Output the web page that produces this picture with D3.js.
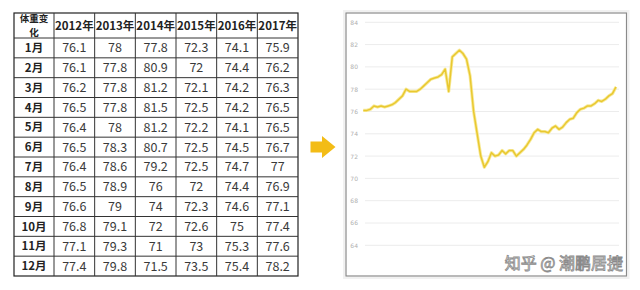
<!DOCTYPE html>
<html>
<head>
<meta charset="utf-8">
<script src="https://cdn.jsdelivr.net/npm/d3@7"></script>
<style>
  html, body { margin: 0; padding: 0; background: #fff; }
  svg { display: block; }
</style>
</head>
<body>
<div id="chart"></div>
<script>
// table / chart data
const years = ["2012年", "2013年", "2014年", "2015年", "2016年", "2017年"];
const months = ["1月", "2月", "3月", "4月", "5月", "6月", "7月", "8月", "9月", "10月", "11月", "12月"];
const w2012 = ["76.1", "76.1", "76.2", "76.5", "76.4", "76.5", "76.4", "76.5", "76.6", "76.8", "77.1", "77.4"];
const w2013 = ["78", "77.8", "77.8", "77.8", "78", "78.3", "78.6", "78.9", "79", "79.1", "79.3", "79.8"];
const w2014 = ["77.8", "80.9", "81.2", "81.5", "81.2", "80.7", "79.2", "76", "74", "72", "71", "71.5"];
const w2015 = ["72.3", "72", "72.1", "72.5", "72.2", "72.5", "72.5", "72", "72.3", "72.6", "73", "73.5"];
const w2016 = ["74.1", "74.4", "74.2", "74.2", "74.1", "74.5", "74.7", "74.4", "74.6", "75", "75.3", "75.4"];
const w2017 = ["75.9", "76.2", "76.3", "76.5", "76.5", "76.7", "77", "76.9", "77.1", "77.4", "77.6", "78.2"];
const yTicks = [64, 66, 68, 70, 72, 74, 76, 78, 80, 82, 84];
const headerLabel = ["体重变", "化"];
const watermark = "知乎 @ 潮鹏居捷";

const series = [w2012, w2013, w2014, w2015, w2016, w2017];

const W = 640, H = 290;
const svg = d3.select("#chart").append("svg")
    .attr("width", W)
    .attr("height", H);

/////////////////////////// table ///////////////////////////
const tbl = { left: 14, top: 13, headerBottom: 38, bottom: 276, firstColRight: 54, right: 298 };
const colX = d3.scaleBand()
    .domain(years)
    .range([tbl.firstColRight, tbl.right]);
const rowY = d3.scaleBand()
    .domain(months)
    .range([tbl.headerBottom, tbl.bottom]);

const table = svg.append("g").attr("class", "table")
    .style("font-family", "'Noto Sans CJK SC', 'Noto Sans', sans-serif");

table.append("rect")
    .attr("x", tbl.left).attr("y", tbl.top)
    .attr("width", tbl.right - tbl.left).attr("height", tbl.bottom - tbl.top)
    .attr("fill", "#fff").attr("stroke", "#222").attr("stroke-width", 1.2);

// horizontal rules
table.selectAll(".hrule")
    .data(months.slice(1).concat(["_head"]))
    .enter().append("line")
    .attr("x1", tbl.left).attr("x2", tbl.right)
    .attr("y1", d => d === "_head" ? tbl.headerBottom : rowY(d))
    .attr("y2", d => d === "_head" ? tbl.headerBottom : rowY(d))
    .attr("stroke", "#333").attr("stroke-width", 1);

// vertical rules
table.selectAll(".vrule")
    .data(years)
    .enter().append("line")
    .attr("x1", d => colX(d)).attr("x2", d => colX(d))
    .attr("y1", tbl.top).attr("y2", tbl.bottom)
    .attr("stroke", "#333").attr("stroke-width", 1);

// header (two lines in the first cell)
table.selectAll(".cornerHead")
    .data(headerLabel)
    .enter().append("text")
    .attr("x", (tbl.left + tbl.firstColRight) / 2)
    .attr("y", (d, i) => tbl.top + 8.8 + i * 14)
    .attr("text-anchor", "middle")
    .style("font-size", "9.5px").style("font-weight", "bold").attr("fill", "#222")
    .text(d => d);

table.selectAll(".yearHead")
    .data(years)
    .enter().append("text")
    .attr("x", d => colX(d) + colX.bandwidth() / 2)
    .attr("y", (tbl.top + tbl.headerBottom) / 2)
    .attr("dy", "0.36em")
    .attr("text-anchor", "middle")
    .style("font-size", "11.5px").style("font-weight", "bold").attr("fill", "#222")
    .text(d => d);

table.selectAll(".monthHead")
    .data(months)
    .enter().append("text")
    .attr("x", (tbl.left + tbl.firstColRight) / 2)
    .attr("y", d => rowY(d) + rowY.bandwidth() / 2)
    .attr("dy", "0.36em")
    .attr("text-anchor", "middle")
    .style("font-size", "11.5px").style("font-weight", "bold").attr("fill", "#222")
    .text(d => d);

series.forEach((vals, c) => {
    table.selectAll(".cell" + c)
        .data(vals)
        .enter().append("text")
        .attr("x", colX(years[c]) + colX.bandwidth() / 2)
        .attr("y", (d, i) => rowY(months[i]) + rowY.bandwidth() / 2)
        .attr("dy", "0.36em")
        .attr("text-anchor", "middle")
        .style("font-size", "12.5px").attr("fill", "#3a3a3a")
        .text(d => d);
});

/////////////////////////// arrow ///////////////////////////
svg.append("path")
    .attr("d", "M310.5,141.5 L322,141.5 L322,136 L335.5,147 L322,158 L322,152.5 L310.5,152.5 Z")
    .attr("fill", "#F3BC16");

/////////////////////////// line chart ///////////////////////////
const panel = { left: 346, top: 13, right: 626.5, bottom: 276 };

svg.append("rect")
    .attr("x", panel.left - 2).attr("y", panel.top - 2)
    .attr("width", panel.right - panel.left + 4).attr("height", panel.bottom - panel.top + 4)
    .attr("fill", "none").attr("stroke", "#f1f1f1").attr("stroke-width", 2);
svg.append("rect")
    .attr("x", panel.left).attr("y", panel.top)
    .attr("width", panel.right - panel.left).attr("height", panel.bottom - panel.top)
    .attr("fill", "#fff").attr("stroke", "#8a8a8a").attr("stroke-width", 1.2);

const flat = series.flat().map(Number);

const x = d3.scaleLinear()
    .domain([0, flat.length - 1])
    .range([363.3, 616]);
const y = d3.scaleLinear()
    .domain([64, 84])
    .range([245.3, 22.3]);

const grid = svg.append("g");
grid.selectAll("line")
    .data(yTicks)
    .enter().append("line")
    .attr("x1", 365).attr("x2", 619)
    .attr("y1", d => y(d)).attr("y2", d => y(d))
    .attr("stroke", "#ececec").attr("stroke-width", 1);

const yAxis = d3.axisLeft(y)
    .tickValues(yTicks)
    .tickSize(0)
    .tickPadding(0);
svg.append("g")
    .attr("transform", "translate(358,0)")
    .call(yAxis)
    .call(g => g.select(".domain").remove())
    .call(g => g.selectAll("text")
        .attr("fill", "#b0b0b0")
        .style("font-size", "6px")
        .style("font-family", "'DejaVu Sans', sans-serif"));

const line = d3.line()
    .x((d, i) => x(i))
    .y(d => y(d));

svg.append("path")
    .datum(flat)
    .attr("d", line)
    .attr("fill", "none")
    .attr("stroke", "#f7ea9a")
    .attr("stroke-width", 3.2)
    .attr("stroke-linejoin", "round");
svg.append("path")
    .datum(flat)
    .attr("d", line)
    .attr("fill", "none")
    .attr("stroke", "#E9C830")
    .attr("stroke-width", 1.5)
    .attr("stroke-linejoin", "round");

// watermark
svg.append("text")
    .attr("x", 623)
    .attr("y", 269)
    .attr("text-anchor", "end")
    .style("font-family", "'Noto Sans CJK SC', sans-serif")
    .style("font-size", "16px")
    .attr("fill", "#ffffff")
    .attr("stroke", "#8a8a8a")
    .attr("stroke-width", 0.8)
    .text(watermark);
</script>
</body>
</html>
